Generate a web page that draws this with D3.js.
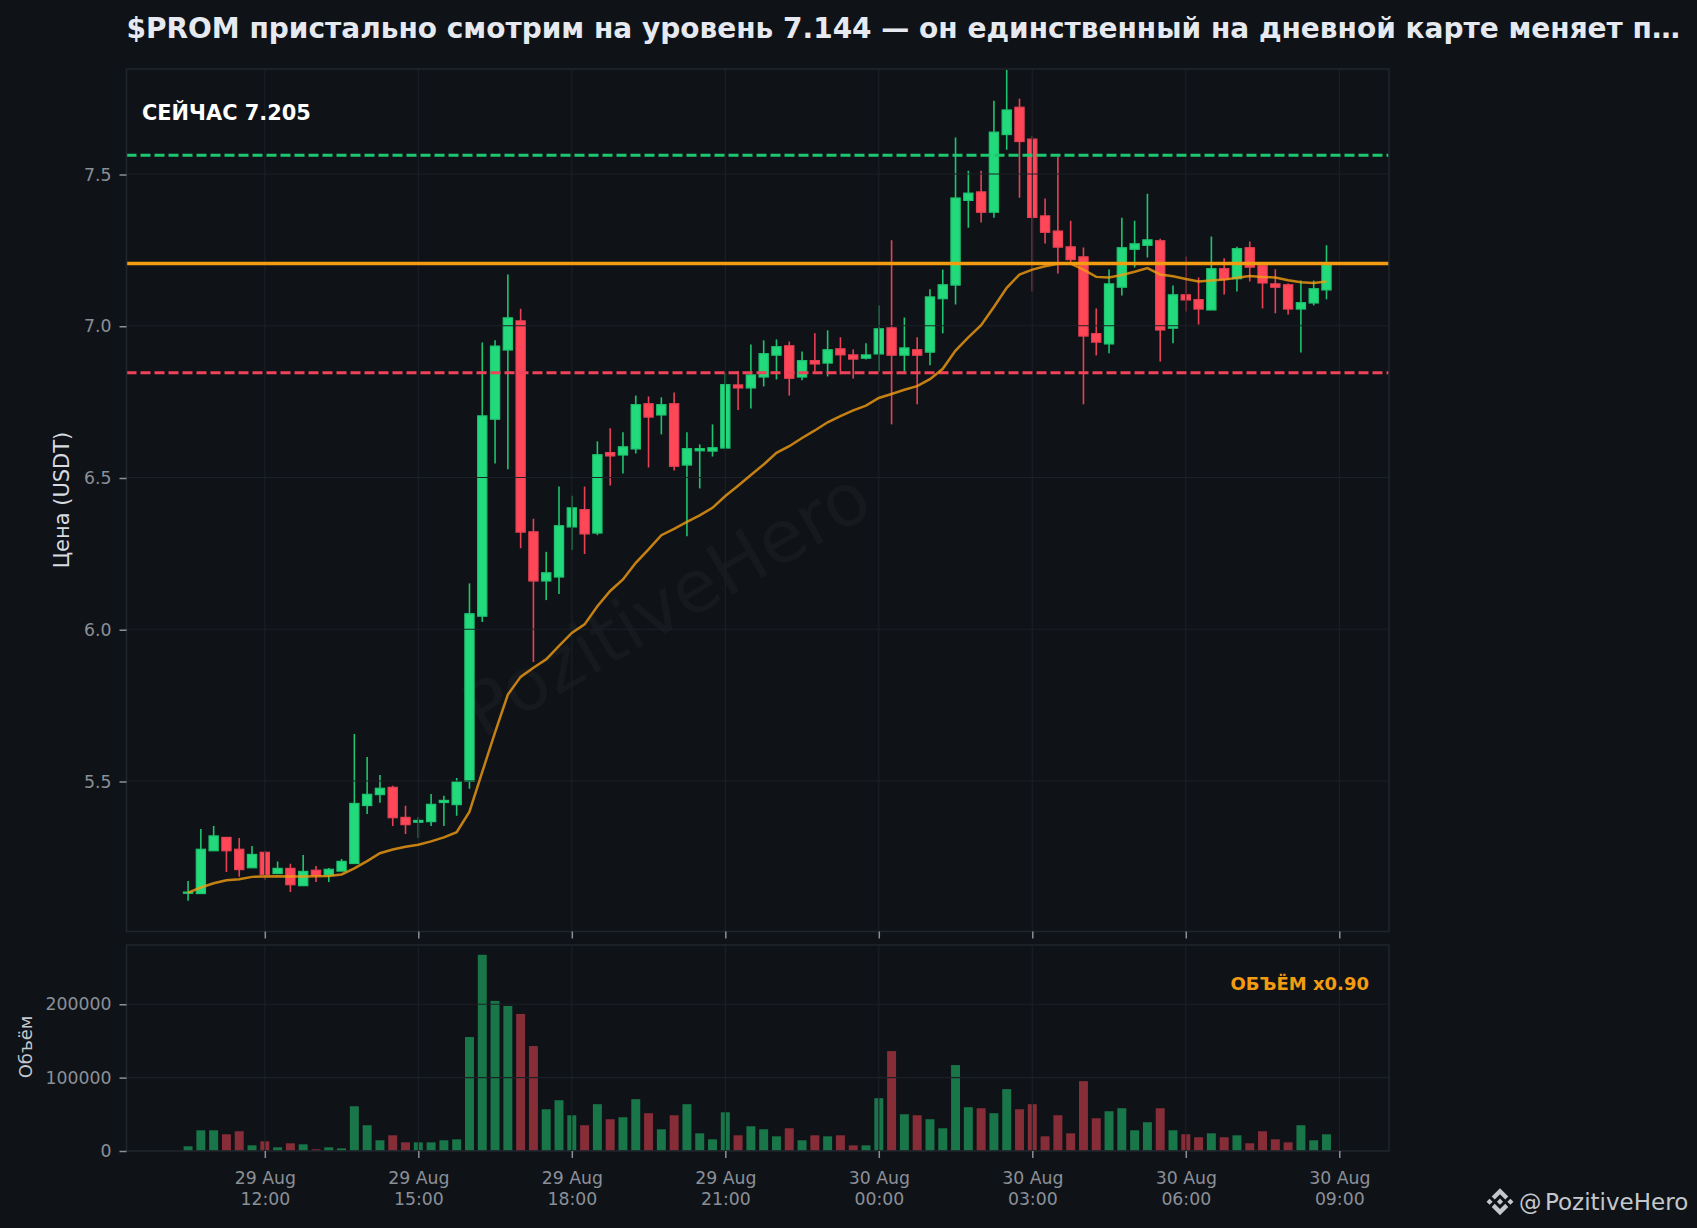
<!DOCTYPE html>
<html><head><meta charset="utf-8">
<script src="https://cdn.jsdelivr.net/npm/d3@7/dist/d3.min.js"></script>
<style>html,body{margin:0;padding:0;background:#0f1317}svg{display:block}text{font-family:"DejaVu Sans",sans-serif}</style>
</head><body><svg id="c" width="1697" height="1228"></svg>
<script>
const titleText = "$PROM пристально смотрим на уровень 7.144 — он единственный на дневной карте меняет п…";
const nowLabel = "СЕЙЧАС 7.205";
const volumeLabel = "ОБЪЁМ x0.90";
const priceAxisLabel = "Цена (USDT)";
const volumeAxisLabel = "Объём";
const brandName = "PozitiveHero";
const priceTicks = [5.5, 6.0, 6.5, 7.0, 7.5];
const volumeTicks = [0, 100000, 200000];
const levelUpper = 7.562, levelLower = 6.845, levelNow = 7.205;
const timeTicks = ["2025-08-29T12:00Z","2025-08-29T15:00Z","2025-08-29T18:00Z","2025-08-29T21:00Z","2025-08-30T00:00Z","2025-08-30T03:00Z","2025-08-30T06:00Z","2025-08-30T09:00Z"].map(d=>new Date(d));
const firstCandle = new Date("2025-08-29T10:30Z"), candleMinutes = 15;

const opens = [5.130,5.129,5.270,5.314,5.275,5.214,5.265,5.195,5.212,5.155,
5.206,5.190,5.203,5.228,5.419,5.455,5.479,5.380,5.364,5.366,
5.429,5.422,5.499,6.043,6.692,6.920,7.016,6.321,6.159,6.172,
6.337,6.394,6.317,6.582,6.574,6.594,6.743,6.706,6.743,6.541,
6.588,6.587,6.597,6.805,6.795,6.831,6.903,6.934,6.831,6.885,
6.877,6.924,6.904,6.893,6.907,6.993,6.903,6.921,6.913,7.089,
7.134,7.413,7.441,7.374,7.630,7.720,7.615,7.362,7.312,7.260,
7.227,6.974,6.940,7.127,7.252,7.265,7.280,6.992,7.102,7.086,
7.052,7.188,7.155,7.257,7.198,7.138,7.135,7.055,7.075,7.118];
const closes = [5.134,5.275,5.319,5.270,5.208,5.258,5.191,5.212,5.158,5.202,
5.189,5.209,5.235,5.426,5.456,5.476,5.379,5.356,5.370,5.423,
5.436,5.497,6.051,6.703,6.933,7.026,6.320,6.159,6.186,6.341,
6.400,6.314,6.575,6.571,6.601,6.740,6.699,6.740,6.537,6.595,
6.595,6.598,6.806,6.795,6.838,6.908,6.931,6.827,6.885,6.874,
6.921,6.904,6.890,6.904,6.990,6.903,6.927,6.903,7.095,7.135,
7.421,7.437,7.374,7.638,7.711,7.607,7.357,7.308,7.259,7.218,
6.966,6.946,7.138,7.257,7.270,7.283,6.986,7.102,7.085,7.055,
7.188,7.153,7.254,7.193,7.141,7.127,7.055,7.076,7.122,7.201];
const highs = [5.170,5.342,5.352,5.314,5.312,5.286,5.269,5.235,5.227,5.256,
5.220,5.213,5.243,5.655,5.579,5.520,5.484,5.418,5.381,5.457,
5.451,5.510,6.151,6.945,6.952,7.169,7.056,6.364,6.255,6.470,
6.440,6.470,6.619,6.662,6.649,6.770,6.767,6.764,6.780,6.649,
6.609,6.675,6.845,6.851,6.938,6.952,6.955,6.948,6.915,6.975,
6.985,6.962,6.922,6.942,7.067,7.282,7.027,6.962,7.120,7.185,
7.620,7.511,7.511,7.741,7.843,7.748,7.626,7.419,7.557,7.346,
7.258,7.057,7.185,7.356,7.346,7.435,7.287,7.133,7.228,7.159,
7.294,7.222,7.260,7.278,7.204,7.186,7.139,7.149,7.149,7.265];
const lows = [5.105,5.129,5.270,5.200,5.184,5.214,5.174,5.195,5.134,5.155,
5.167,5.167,5.203,5.228,5.391,5.428,5.352,5.325,5.312,5.352,
5.352,5.385,5.474,6.024,6.546,6.527,6.267,5.892,6.096,6.116,
6.261,6.248,6.310,6.474,6.513,6.579,6.533,6.642,6.523,6.306,
6.464,6.569,6.597,6.722,6.727,6.800,6.823,6.770,6.820,6.849,
6.833,6.840,6.826,6.889,6.849,6.675,6.849,6.741,6.870,6.975,
7.070,7.323,7.340,7.356,7.580,7.422,7.113,7.271,7.172,7.207,
6.741,6.902,6.909,7.100,7.192,7.225,6.882,6.942,7.047,7.004,
7.052,7.103,7.113,7.146,7.057,7.041,7.037,6.912,7.067,7.087];
const avgLine = [5.132,5.149,5.163,5.173,5.176,5.184,5.185,5.186,5.185,5.185,
5.186,5.187,5.192,5.212,5.236,5.262,5.274,5.283,5.290,5.301,
5.314,5.331,5.399,5.530,5.660,5.785,5.843,5.873,5.901,5.945,
5.988,6.016,6.076,6.126,6.164,6.219,6.263,6.310,6.331,6.354,
6.375,6.400,6.439,6.473,6.508,6.543,6.581,6.603,6.630,6.655,
6.682,6.702,6.721,6.737,6.762,6.775,6.789,6.801,6.824,6.858,
6.918,6.962,7.002,7.062,7.125,7.169,7.185,7.196,7.204,7.205,
7.185,7.161,7.159,7.167,7.178,7.190,7.169,7.163,7.154,7.146,
7.149,7.152,7.158,7.164,7.161,7.159,7.150,7.143,7.141,7.146];
const volumes = [6400,28200,28200,22800,26900,7700,13200,5000,10500,9100,
2300,5000,3600,61000,35100,14600,21400,11800,11800,11800,
14600,15900,155400,267400,204600,197700,186800,143000,56900,69200,
48700,35100,63800,43300,46000,70600,51500,29600,48700,63800,
24100,15900,52800,21400,33700,29600,20000,31000,14600,21400,
20000,21400,7700,7700,72000,136200,50100,48700,43300,31000,
117100,59700,58300,51500,84300,56900,63800,20000,48700,24100,
95200,44600,54200,58300,28200,39200,58300,28200,22800,18700,
24100,18700,21400,10500,26900,15900,11800,35100,14600,22800];

const BG="#0f1317", GRID="#1c2027", SPINE="#20262e", TICK="#8b8f98", UP="#22d97c", UPE="#1ec46f", DOWN="#ff4757", DOWNE="#e84155", ORANGE="#f39c12";
const M={l:126.5,r:1389,t:69,b:931.5,vt:945,vb:1151};
const times = opens.map((_,i)=>new Date(firstCandle.getTime()+i*candleMinutes*60000));
const candles = opens.map((o,i)=>({t:times[i],o,c:closes[i],h:highs[i],l:lows[i],v:volumes[i],up:closes[i]>=o}));

const x=d3.scaleUtc().domain([new Date("2025-08-29T09:17:06Z"),new Date("2025-08-30T09:57:36Z")]).range([M.l-0.6,M.r-0.6]);
const y=d3.scaleLinear().domain([5.004,7.846]).range([M.b,M.t]);
const yv=d3.scaleLinear().domain([0,280770]).range([M.vb,M.vt]);
const step=x(times[1])-x(times[0]);

const svg=d3.select("#c");
svg.append("rect").attr("width",1697).attr("height",1228).attr("fill",BG);
const defs=svg.append("defs");
defs.append("clipPath").attr("id","cp").append("rect").attr("x",M.l).attr("y",M.t).attr("width",M.r-M.l).attr("height",M.b-M.t);
defs.append("clipPath").attr("id","cv").append("rect").attr("x",M.l).attr("y",M.vt).attr("width",M.r-M.l).attr("height",M.vb-M.vt);

svg.append("text").attr("x",126.5).attr("y",37.5).attr("font-size",28).attr("font-weight","bold").attr("fill","#e6e9f0").text(titleText);

const main=svg.append("g").attr("clip-path","url(#cp)");
// watermark
main.append("text").attr("transform","translate(669,608) rotate(-30)").attr("text-anchor","middle").attr("dominant-baseline","middle").attr("font-size",73).attr("fill","#ffffff").attr("fill-opacity",0.03).text(brandName);
// wicks
main.append("g").selectAll("line").data(candles).join("line")
 .attr("x1",d=>x(d.t)).attr("x2",d=>x(d.t)).attr("y1",d=>y(d.h)).attr("y2",d=>y(d.l))
 .attr("stroke",d=>d.up?UPE:DOWNE).attr("stroke-width",1.6);
// bodies
main.append("g").selectAll("rect").data(candles).join("rect")
 .attr("x",d=>x(d.t)-step*0.36).attr("width",step*0.72)
 .attr("y",d=>y(Math.max(d.o,d.c))).attr("height",d=>Math.max(1,Math.abs(y(d.o)-y(d.c))))
 .attr("fill",d=>d.up?UP:DOWN).attr("stroke",d=>d.up?UPE:DOWNE).attr("stroke-width",1.2);
// grid above marks
const gm=main.append("g");
gm.selectAll("line.a").data(timeTicks).join("line").attr("class","a").attr("x1",d=>x(d)).attr("x2",d=>x(d)).attr("y1",M.t).attr("y2",M.b).attr("stroke",GRID).attr("stroke-width",1.1);
gm.selectAll("line.b").data(priceTicks).join("line").attr("class","b").attr("x1",M.l).attr("x2",M.r).attr("y1",d=>y(d)).attr("y2",d=>y(d)).attr("stroke",GRID).attr("stroke-width",1.1);
// levels
main.append("line").attr("x1",M.l).attr("x2",M.r).attr("y1",y(levelUpper)).attr("y2",y(levelUpper)).attr("stroke","#1ec76f").attr("stroke-width",2.9).attr("stroke-dasharray","10 4");
main.append("line").attr("x1",M.l).attr("x2",M.r).attr("y1",y(levelLower)).attr("y2",y(levelLower)).attr("stroke","#f0435a").attr("stroke-width",2.9).attr("stroke-dasharray","10 4");
main.append("line").attr("x1",M.l).attr("x2",M.r).attr("y1",y(levelNow)).attr("y2",y(levelNow)).attr("stroke",ORANGE).attr("stroke-width",3.6);
// average
main.append("path").datum(candles).attr("fill","none").attr("stroke",ORANGE).attr("stroke-opacity",0.8).attr("stroke-width",2.5)
 .attr("d",d3.line().x(d=>x(d.t)).y((d,i)=>y(avgLine[i])));
svg.append("text").attr("x",142).attr("y",120).attr("font-size",20.9).attr("font-weight","bold").attr("fill","#ffffff").text(nowLabel);

// volume panel
const vol=svg.append("g").attr("clip-path","url(#cv)");
vol.append("g").selectAll("rect").data(candles).join("rect")
 .attr("x",d=>x(d.t)-step*0.35).attr("width",step*0.7).attr("y",d=>yv(d.v)).attr("height",d=>yv(0)-yv(d.v))
 .attr("fill",d=>d.up?UP:DOWN).attr("fill-opacity",0.5);
vol.selectAll("line.a").data(timeTicks).join("line").attr("class","a").attr("x1",d=>x(d)).attr("x2",d=>x(d)).attr("y1",M.vt).attr("y2",M.vb).attr("stroke",GRID).attr("stroke-width",1.1);
vol.selectAll("line.b").data(volumeTicks).join("line").attr("class","b").attr("x1",M.l).attr("x2",M.r).attr("y1",d=>yv(d)).attr("y2",d=>yv(d)).attr("stroke",GRID).attr("stroke-width",1.1);
svg.append("text").attr("x",1369).attr("y",990).attr("text-anchor","end").attr("font-size",18).attr("font-weight","bold").attr("fill",ORANGE).text(volumeLabel);

// frames
[[M.t,M.b],[M.vt,M.vb]].forEach(([t,b])=>svg.append("rect").attr("x",M.l).attr("y",t).attr("width",M.r-M.l).attr("height",b-t).attr("fill","none").attr("stroke",SPINE).attr("stroke-width",1.5));

// axes
function style(g){g.select(".domain").remove();g.selectAll(".tick line").attr("stroke",TICK).attr("stroke-width",1.5);g.selectAll(".tick text").attr("fill",TICK).attr("font-size",17.3).attr("font-family","DejaVu Sans");}
svg.append("g").attr("transform",`translate(${M.l},0.5)`).call(d3.axisLeft(y).tickValues(priceTicks).tickFormat(d3.format(".1f")).tickSize(7).tickPadding(8)).call(style);
svg.append("g").attr("transform",`translate(${M.l},0)`).call(d3.axisLeft(yv).tickValues(volumeTicks).tickFormat(d3.format("d")).tickSize(7).tickPadding(8)).call(style);
svg.append("g").attr("transform",`translate(0,${M.b})`).call(d3.axisBottom(x).tickValues(timeTicks).tickFormat("").tickSize(7)).call(style);
const xa=svg.append("g").attr("transform",`translate(0,${M.vb})`).call(d3.axisBottom(x).tickValues(timeTicks).tickFormat("").tickSize(7)).call(style);
const fmtD=d3.utcFormat("%-d %b"), fmtH=d3.utcFormat("%H:%M");
xa.selectAll(".tick").each(function(d){
 const t=d3.select(this).select("text").attr("y",0).attr("dy",null);
 t.append("tspan").attr("x",0).attr("y",33).text(fmtD(d));
 t.append("tspan").attr("x",0).attr("y",54).text(fmtH(d));
});
svg.append("text").attr("transform","translate(68.5,500) rotate(-90)").attr("text-anchor","middle").attr("font-size",21).attr("fill","#d8dbe0").text(priceAxisLabel);
svg.append("text").attr("transform","translate(31.5,1047) rotate(-90)").attr("text-anchor","middle").attr("font-size",18).attr("fill","#c4c7cd").text(volumeAxisLabel);

// brand
const brand=svg.append("g").attr("fill","#c4c7cc");
brand.append("path").attr("transform","translate(1486.5,1188.2) scale(0.213)")
 .attr("d","M38.73 53.2l24.59-24.58 24.6 24.6 14.3-14.31L63.32 0 24.43 38.9l14.3 14.3zM0 63.31l14.3-14.31 14.31 14.31-14.31 14.3zM38.73 73.41l24.59 24.59 24.6-24.6 14.31 14.29-38.9 38.91-38.91-38.88v-.03l14.31-14.28zM98 63.31l14.3-14.31 14.31 14.3-14.31 14.32zM77.83 63.3L63.32 48.78 52.59 59.51l-1.24 1.23-2.54 2.54 14.51 14.5 14.51-14.47z");
brand.append("text").attr("x",1519).attr("y",1210).attr("font-size",22.4).text("@");
brand.append("text").attr("x",1545).attr("y",1210).attr("font-size",23).text(brandName);
</script></body></html>
